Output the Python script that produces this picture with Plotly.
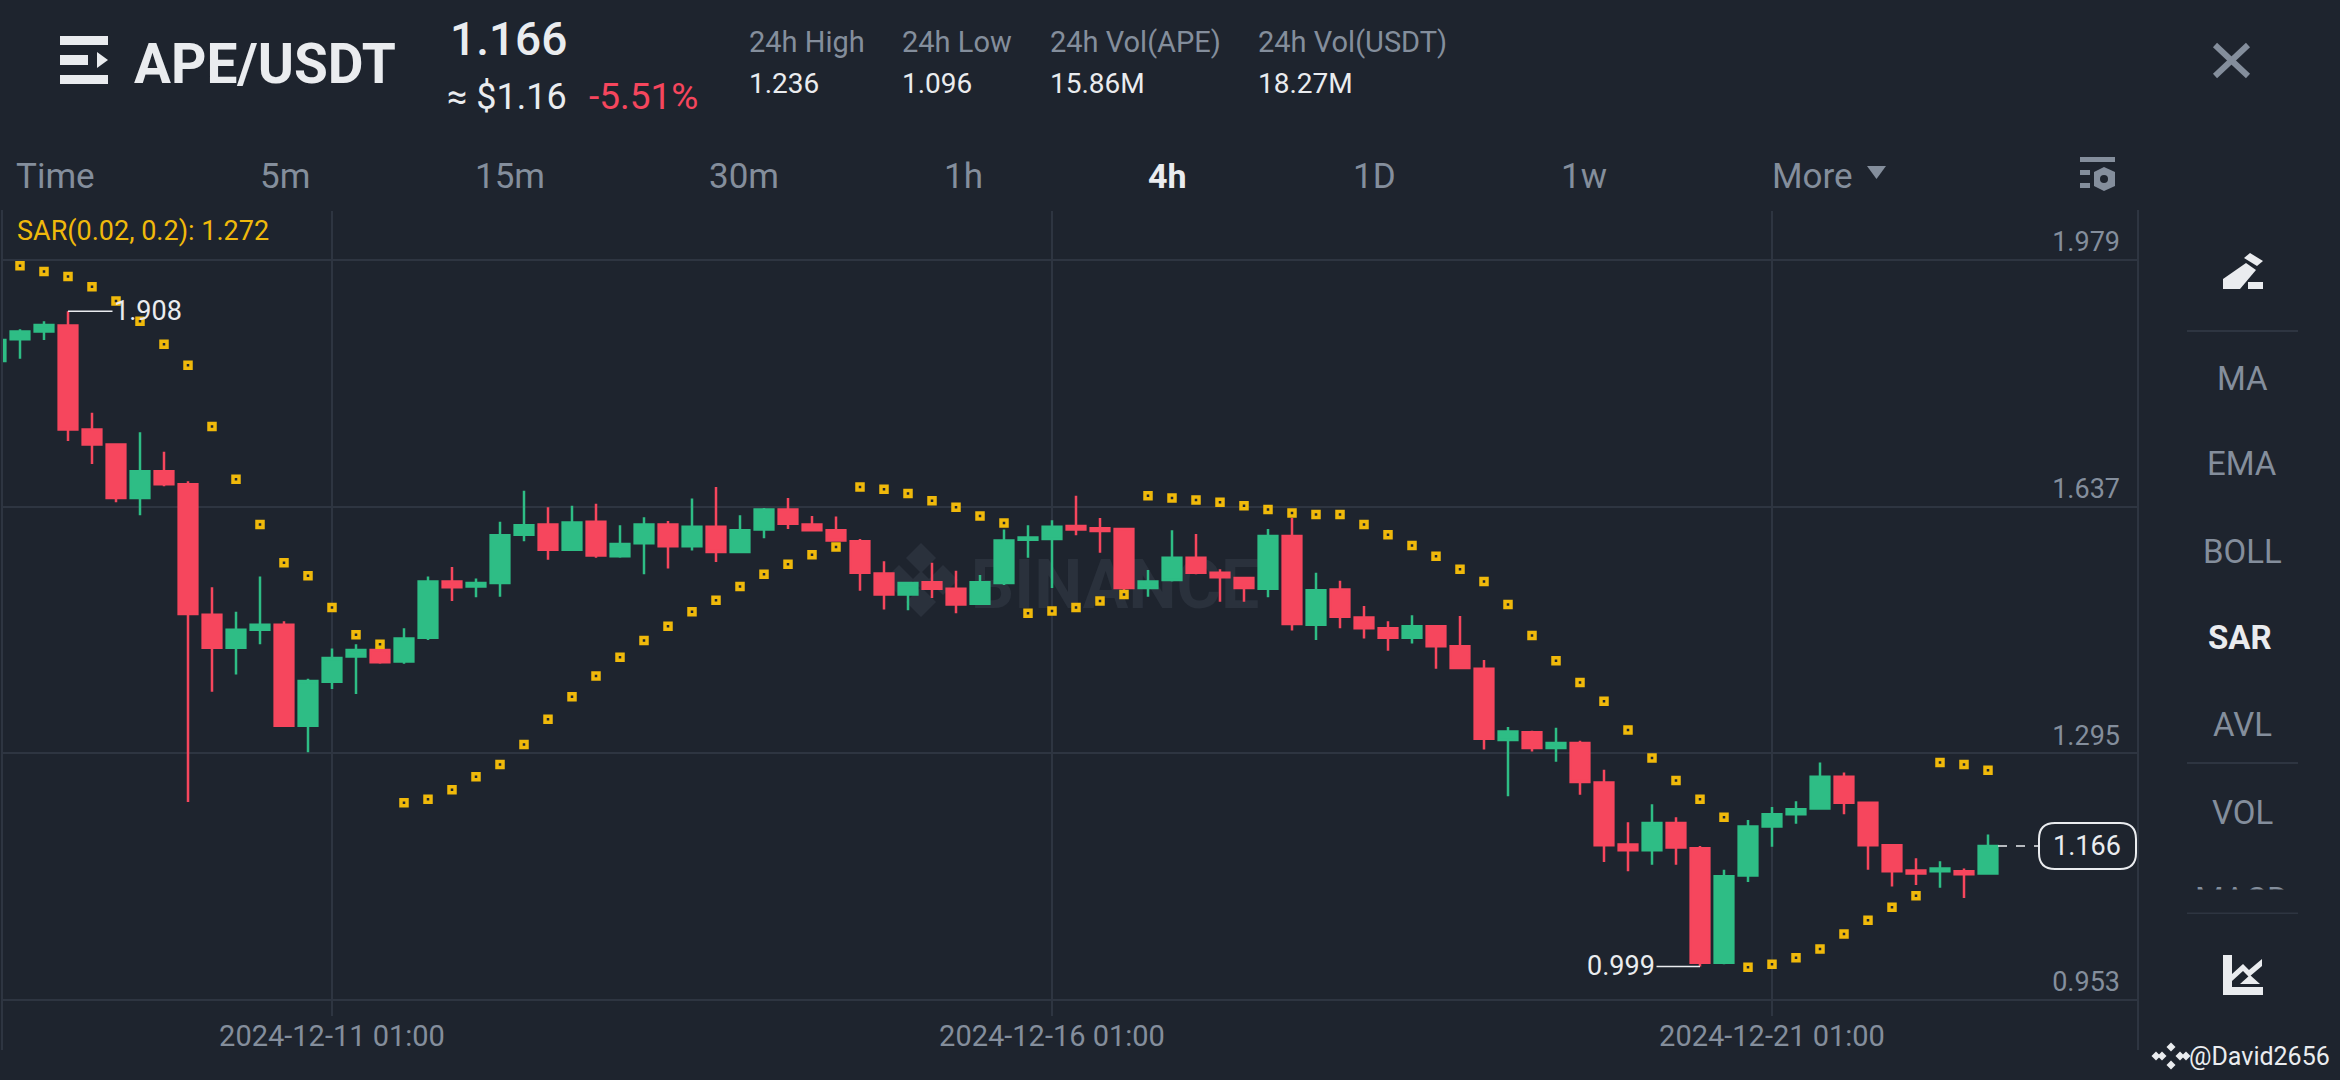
import pandas as pd
import plotly.graph_objects as go

# 4h candles (first one is cut by the left edge)
first_candle = "2024-12-08 17:00"

opens = [1.839, 1.869, 1.880, 1.888, 1.744, 1.723, 1.649, 1.686, 1.668, 1.487, 1.441, 1.466, 1.473, 1.333,
         1.394, 1.429, 1.438, 1.422, 1.455, 1.533, 1.526, 1.531, 1.598, 1.612, 1.577, 1.616, 1.568, 1.586,
         1.612, 1.582, 1.609, 1.574, 1.605, 1.633, 1.612, 1.604, 1.589, 1.544, 1.515, 1.532, 1.523, 1.502,
         1.531, 1.591, 1.592, 1.610, 1.607, 1.606, 1.524, 1.535, 1.566, 1.545, 1.538, 1.523, 1.596, 1.473,
         1.522, 1.483, 1.468, 1.455, 1.471, 1.443, 1.412, 1.313, 1.324, 1.302, 1.309, 1.254, 1.168, 1.160,
         1.198, 1.163, 1.004, 1.125, 1.193, 1.210, 1.218, 1.262, 1.226, 1.167, 1.132, 1.131, 1.131, 1.128]
highs = [1.872, 1.883, 1.894, 1.908, 1.767, 1.724, 1.740, 1.713, 1.672, 1.525, 1.491, 1.540, 1.478, 1.398,
         1.440, 1.446, 1.439, 1.468, 1.540, 1.553, 1.537, 1.616, 1.659, 1.636, 1.638, 1.641, 1.611, 1.622,
         1.617, 1.648, 1.664, 1.625, 1.635, 1.649, 1.624, 1.623, 1.592, 1.561, 1.532, 1.559, 1.548, 1.542,
         1.605, 1.611, 1.618, 1.652, 1.621, 1.607, 1.549, 1.604, 1.599, 1.550, 1.539, 1.606, 1.621, 1.545,
         1.534, 1.499, 1.478, 1.486, 1.472, 1.485, 1.424, 1.331, 1.326, 1.330, 1.312, 1.272, 1.199, 1.224,
         1.206, 1.166, 1.133, 1.202, 1.220, 1.228, 1.282, 1.268, 1.227, 1.168, 1.149, 1.145, 1.135, 1.182]
lows = [1.836, 1.842, 1.868, 1.728, 1.696, 1.643, 1.625, 1.665, 1.227, 1.380, 1.404, 1.446, 1.331, 1.296,
        1.384, 1.377, 1.419, 1.419, 1.452, 1.506, 1.511, 1.512, 1.589, 1.563, 1.576, 1.566, 1.566, 1.543,
        1.551, 1.576, 1.560, 1.573, 1.593, 1.606, 1.603, 1.589, 1.520, 1.494, 1.493, 1.510, 1.489, 1.501,
        1.528, 1.566, 1.524, 1.597, 1.573, 1.521, 1.512, 1.533, 1.543, 1.505, 1.505, 1.511, 1.465, 1.452,
        1.468, 1.454, 1.437, 1.447, 1.412, 1.413, 1.300, 1.235, 1.297, 1.283, 1.237, 1.144, 1.131, 1.140,
        1.140, 0.999, 1.002, 1.116, 1.165, 1.197, 1.217, 1.210, 1.133, 1.110, 1.112, 1.108, 1.094, 1.127]
closes = [1.868, 1.880, 1.889, 1.744, 1.723, 1.649, 1.686, 1.668, 1.488, 1.441, 1.466, 1.473, 1.333, 1.395,
          1.427, 1.438, 1.421, 1.454, 1.533, 1.525, 1.531, 1.597, 1.611, 1.577, 1.615, 1.569, 1.585, 1.612,
          1.582, 1.609, 1.574, 1.604, 1.633, 1.613, 1.604, 1.590, 1.545, 1.515, 1.531, 1.523, 1.501, 1.532,
          1.590, 1.594, 1.609, 1.605, 1.603, 1.524, 1.533, 1.566, 1.545, 1.539, 1.524, 1.596, 1.474, 1.521,
          1.484, 1.468, 1.455, 1.471, 1.443, 1.413, 1.315, 1.325, 1.302, 1.309, 1.255, 1.167, 1.160, 1.198,
          1.164, 1.004, 1.124, 1.193, 1.210, 1.217, 1.262, 1.226, 1.167, 1.131, 1.128, 1.135, 1.127, 1.166]

# SAR dots start on the second candle
sar_values = [1.971, 1.963, 1.956, 1.942, 1.922, 1.894, 1.862, 1.833, 1.748, 1.675, 1.612, 1.559, 1.541, 1.497,
              1.459, 1.446, 1.226, 1.231, 1.244, 1.262, 1.279, 1.307, 1.342, 1.373, 1.402, 1.428, 1.451, 1.471,
              1.491, 1.507, 1.526, 1.543, 1.557, 1.570, 1.581, 1.664, 1.661, 1.655, 1.645, 1.636, 1.624, 1.614,
              1.489, 1.492, 1.497, 1.506, 1.515, 1.652, 1.649, 1.646, 1.643, 1.638, 1.633, 1.628, 1.626, 1.626,
              1.612, 1.598, 1.583, 1.568, 1.550, 1.533, 1.501, 1.458, 1.423, 1.393, 1.367, 1.327, 1.288, 1.257,
              1.231, 1.206, 0.998, 1.002, 1.011, 1.023, 1.044, 1.063, 1.081, 1.097, 1.282, 1.279, 1.271]

price_ticks = [0.953, 1.295, 1.637, 1.979]
price_labels = ["0.953", "1.295", "1.637", "1.979"]
date_ticks = ["2024-12-11 01:00", "2024-12-16 01:00", "2024-12-21 01:00"]

tab_names = ["5m", "15m", "30m", "1h", "1D", "1w"]
tab_centers = [285, 510, 744, 963, 1374, 1584]
side_names = ["MA", "EMA", "BOLL", "AVL", "VOL", "MACD"]
side_rows = [378, 464, 551, 724, 812, 899]
stat_names = ["24h High", "24h Low", "24h Vol(APE)", "24h Vol(USDT)"]
stat_values = ["1.236", "1.096", "15.86M", "18.27M"]
stat_lefts = [748, 901, 1049, 1257]

BG = "#1e242e"
GRID = "#2e3541"
GREY = "#848e9c"
WHITE = "#eaecef"
GREEN = "#2ebd85"
RED = "#f6465d"
YELLOW = "#f0b90b"
FONT = "Roboto"
W, H = 2340, 1080

times = pd.date_range(first_candle, periods=len(opens), freq="4h")


def px(x):
    return x / W


def py(y):
    return 1 - y / H


def poly(points, color):
    path = "M" + " L".join(f"{px(x):.5f},{py(y):.5f}" for x, y in points) + " Z"
    return dict(type="path", xref="paper", yref="paper", path=path, fillcolor=color, line_width=0, layer="above")


def bar(x0, y0, x1, y1, color, layer="above"):
    return dict(type="rect", xref="paper", yref="paper", x0=px(x0), x1=px(x1), y0=py(y0), y1=py(y1),
                fillcolor=color, line_width=0, layer=layer)


def rule(x0, y0, x1, y1, color, width=2):
    return dict(type="line", xref="paper", yref="paper", x0=px(x0), x1=px(x1), y0=py(y0), y1=py(y1),
                line=dict(color=color, width=width), layer="above")


def diamond(cx, cy, r, color, layer="above"):
    s = poly([(cx - r, cy), (cx, cy - r), (cx + r, cy), (cx, cy + r)], color)
    s["layer"] = layer
    return s


def label(text, x, y, size, color=GREY, anchor="left", weight=400):
    return dict(text=text, xref="paper", yref="paper", x=px(x), y=py(y), xanchor=anchor, yanchor="middle",
                showarrow=False, borderpad=0, font=dict(family=FONT, size=size, color=color, weight=weight))


fig = go.Figure()

fig.add_trace(go.Candlestick(
    x=times, open=opens, high=highs, low=lows, close=closes,
    increasing=dict(line=dict(color=GREEN, width=2.5), fillcolor=GREEN),
    decreasing=dict(line=dict(color=RED, width=2.5), fillcolor=RED),
    whiskerwidth=0, hoverinfo="skip",
))
fig.add_trace(go.Scatter(
    x=times[1:], y=sar_values, mode="markers", hoverinfo="skip",
    marker=dict(symbol="square", size=6, color=BG, line=dict(color=YELLOW, width=3.5)),
))

shapes = []
# plot frame, the two long rules run past the date row
shapes.append(rule(2, 210, 2, 1050, GRID))
shapes.append(rule(2138, 210, 2138, 1050, GRID))

# last price line and its box
shapes.append(dict(type="line", xref="paper", yref="y", x0=px(1998), x1=px(2039), y0=closes[-1], y1=closes[-1],
                   line=dict(color=WHITE, width=1.5, dash="dash"), layer="above"))
x0, x1, y0, y1, r = px(2039), px(2136), py(823), py(869), 16
rx, ry = r / W, r / H
shapes.append(dict(type="path", xref="paper", yref="paper", layer="above", fillcolor=BG,
                   line=dict(color=WHITE, width=2),
                   path=f"M{x0 + rx},{y0} L{x1 - rx},{y0} Q{x1},{y0} {x1},{y0 - ry} L{x1},{y1 + ry} "
                        f"Q{x1},{y1} {x1 - rx},{y1} L{x0 + rx},{y1} Q{x0},{y1} {x0},{y1 + ry} "
                        f"L{x0},{y0 - ry} Q{x0},{y0} {x0 + rx},{y0} Z"))

# menu icon
shapes.append(bar(60, 36, 108, 45, WHITE))
shapes.append(bar(60, 55, 88, 65, WHITE))
shapes.append(poly([(97, 52), (108, 60), (97, 68)], WHITE))
shapes.append(bar(60, 75, 108, 84, WHITE))

# close cross
shapes.append(rule(2215, 45, 2248, 76, GREY, 6))
shapes.append(rule(2248, 45, 2215, 76, GREY, 6))

# "More" arrow
shapes.append(poly([(1867, 166), (1886, 166), (1876.5, 179)], GREY))

# settings icon
shapes.append(bar(2080, 157, 2115, 162, GREY))
shapes.append(bar(2080, 170, 2090, 175, GREY))
shapes.append(bar(2080, 183, 2090, 188, GREY))
shapes.append(poly([(2094, 172), (2104, 167), (2115, 172), (2115, 186), (2104, 191), (2094, 186)], GREY))
shapes.append(dict(type="circle", xref="paper", yref="paper", x0=px(2100), x1=px(2108), y0=py(175), y1=py(183),
                   fillcolor=BG, line_width=0, layer="above"))

# side menu rules
for row in [331, 763, 913]:
    shapes.append(rule(2187, row, 2298, row, GRID))

# pen icon
shapes.append(poly([(2223, 289), (2223, 279), (2246, 263), (2256, 270), (2240, 289)], WHITE))
shapes.append(poly([(2244, 258), (2250, 253), (2263, 261), (2257, 266)], WHITE))
shapes.append(bar(2248, 282, 2263, 289, WHITE))

# chart icon
shapes.append(poly([(2223, 955), (2232, 955), (2232, 987), (2263, 987), (2263, 995), (2223, 995)], WHITE))
shapes.append(poly([(2232, 974), (2243, 964), (2249, 970), (2262, 959), (2262, 966), (2249, 977), (2243, 971),
                    (2232, 981)], WHITE))
shapes.append(poly([(2240, 984), (2250, 975), (2260, 984)], WHITE))

# small logo next to the handle
for dx, dy in [(0, -9), (-9, 0), (9, 0), (0, 9), (-15, 0), (15, 0)]:
    shapes.append(diamond(2171 + dx, 1056 + dy, 4.5, WHITE))

# faint watermark under the candles
for dx, dy in [(0, -22), (-22, 0), (22, 0), (0, 22)]:
    shapes.append(diamond(921 + dx, 580 + dy, 15, "#2a313c", "below"))
shapes.append(diamond(921, 580, 9, "#2a313c", "below"))
shapes.append(dict(type="rect", xref="paper", yref="paper", x0=px(960), x1=px(1270), y0=py(550), y1=py(610),
                   line_width=0, layer="below",
                   label=dict(text="BINANCE", textposition="middle center",
                              font=dict(family=FONT, size=68, color="#2a313c", weight=700))))

annotations = [
    label("APE/USDT", 133, 64, 55, WHITE, weight=700),
    label("1.166", 449, 39, 46, WHITE, weight=500),
    label("≈ $1.16", 446, 97, 36, WHITE),
    label("-5.51%", 588, 97, 37, RED),
    label("Time", 15, 176, 35),
    label("4h", 1167, 176, 34, WHITE, "center", 700),
    label("More", 1771, 176, 35),
    label("SAR(0.02, 0.2): 1.272", 16, 231, 27, YELLOW),
    label("SAR", 2240, 637, 33, WHITE, "center", 700),
    label("@David2656", 2188, 1056, 25, WHITE),
]
for name, left, value in zip(stat_names, stat_lefts, stat_values):
    annotations.append(label(name, left, 42, 29))
    annotations.append(label(value, left, 84, 28, WHITE))
for name, center in zip(tab_names, tab_centers):
    annotations.append(label(name, center, 176, 35, anchor="center"))
for name, row in zip(side_names, side_rows):
    annotations.append(label(name, 2242, row, 33, anchor="center"))

# hides most of the MACD row, the list is scrolled there
annotations.append(dict(text=" ", xref="paper", yref="paper", x=px(2243), y=py(889), xanchor="center", yanchor="top",
                        showarrow=False, width=160, height=22, bgcolor=BG, borderpad=0))

# high and low markers
high_i = highs.index(max(highs))
low_i = lows.index(min(lows))
for i, value, shift in [(high_i, highs[high_i], 80), (low_i, lows[low_i], -79)]:
    annotations.append(dict(text=f"{value:.3f}", x=times[i], y=value, xref="x", yref="y", showarrow=True,
                            axref="pixel", ayref="pixel", ax=shift, ay=0, arrowhead=0, arrowwidth=1.5,
                            arrowcolor=WHITE, standoff=0,
                            font=dict(family=FONT, size=27, color=WHITE)))

annotations.append(label(f"{closes[-1]:.3f}", 2122, 846, 27, WHITE, "right"))

fig.update_layout(
    width=W, height=H,
    margin=dict(l=0, r=0, t=0, b=0),
    paper_bgcolor=BG, plot_bgcolor=BG,
    showlegend=False, boxgap=0.22, boxgroupgap=0,
    shapes=shapes, annotations=annotations,
    xaxis=dict(
        type="date", domain=[px(2), px(2138)], anchor="y",
        range=["2024-12-08 18:00", "2024-12-23 14:00"],
        rangeslider=dict(visible=False),
        tickmode="array", tickvals=date_ticks, ticktext=[d for d in date_ticks],
        ticks="", ticklabelstandoff=0, showline=False, zeroline=False,
        showgrid=True, gridcolor=GRID, gridwidth=2,
        tickfont=dict(family=FONT, size=29, color=GREY),
    ),
    yaxis=dict(
        domain=[py(1016), py(211)], anchor="x", side="right",
        range=[0.9302, 2.0470],
        tickmode="array", tickvals=price_ticks, ticktext=price_labels,
        ticks="", ticklabelposition="inside", ticklabelstandoff=15, ticklabelshift=-18,
        showline=False, zeroline=False,
        showgrid=True, gridcolor=GRID, gridwidth=2,
        tickfont=dict(family=FONT, size=27, color=GREY),
    ),
)

fig.write_html("out.html", config={"displayModeBar": False},
               post_script="document.body.style.margin='0';document.body.style.background='%s';" % BG)
